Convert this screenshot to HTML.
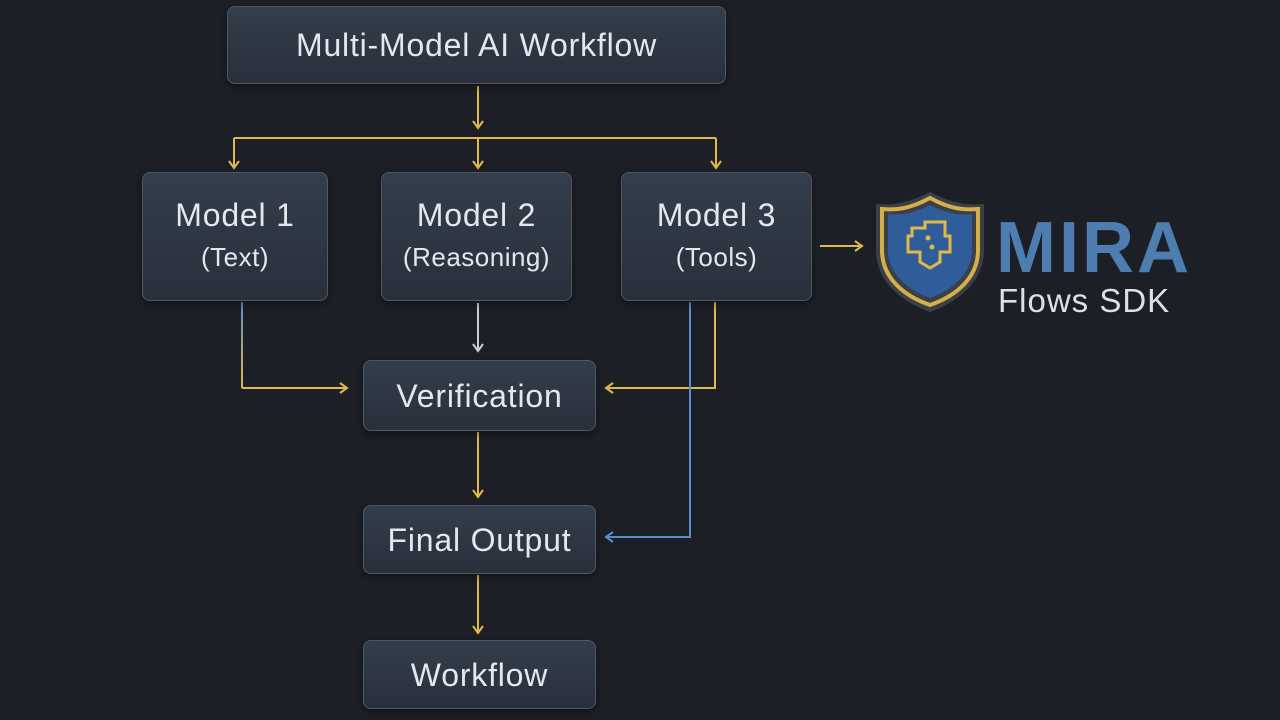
<!DOCTYPE html>
<html><head><meta charset="utf-8"><style>
html,body{margin:0;padding:0}
body{width:1280px;height:720px;background:#1c1f26;position:relative;overflow:hidden;font-family:"Liberation Sans",sans-serif}
.b{position:absolute;box-sizing:border-box;border:1px solid #4d5868;border-radius:8px;background:linear-gradient(#343d4b,#28303c);color:#e4e7ec;display:flex;flex-direction:column;align-items:center;justify-content:center;text-align:center;box-shadow:0 3px 8px rgba(0,0,0,.4)}
.t1{font-size:32px;line-height:40px;letter-spacing:0.8px}
.t2{font-size:26px;line-height:44px;letter-spacing:0.5px}
</style></head><body>
<svg width="1280" height="720" style="position:absolute;left:0;top:0">
<defs>
<marker id="ay" markerWidth="12" markerHeight="12" refX="9" refY="6" orient="auto" markerUnits="userSpaceOnUse"><path d="M2,1 L9,6 L2,11" fill="none" stroke="#e0b94a" stroke-width="2"/></marker>
<marker id="ab" markerWidth="12" markerHeight="12" refX="9" refY="6" orient="auto" markerUnits="userSpaceOnUse"><path d="M2,1 L9,6 L2,11" fill="none" stroke="#5b8ccc" stroke-width="2"/></marker>
<marker id="ag" markerWidth="12" markerHeight="12" refX="9" refY="6" orient="auto" markerUnits="userSpaceOnUse"><path d="M2,1 L9,6 L2,11" fill="none" stroke="#c8ccd4" stroke-width="2"/></marker>
<linearGradient id="g1" gradientUnits="userSpaceOnUse" x1="0" y1="302" x2="0" y2="388"><stop offset="0" stop-color="#5b8ccc"/><stop offset="1" stop-color="#e0b94a"/></linearGradient>
</defs>
<g fill="none" stroke-width="2">
<path d="M478,86 V128" stroke="#e0b94a" marker-end="url(#ay)"/>
<path d="M234,138 H716" stroke="#e0b94a"/>
<path d="M234,138 V168" stroke="#e0b94a" marker-end="url(#ay)"/>
<path d="M478,138 V168" stroke="#e0b94a" marker-end="url(#ay)"/>
<path d="M716,138 V168" stroke="#e0b94a" marker-end="url(#ay)"/>
<path d="M242,302 V388" stroke="url(#g1)"/>
<path d="M242,388 H347" stroke="#e0b94a" marker-end="url(#ay)"/>
<path d="M478,303 V351" stroke="#c8ccd4" marker-end="url(#ag)"/>
<path d="M715,302 V388 H606" stroke="#e0b94a" marker-end="url(#ay)"/>
<path d="M690,302 V537 H606" stroke="#5b8ccc" marker-end="url(#ab)"/>
<path d="M820,246 H862" stroke="#e0b94a" marker-end="url(#ay)"/>
<path d="M478,432 V497" stroke="#e0b94a" marker-end="url(#ay)"/>
<path d="M478,575 V633" stroke="#e0b94a" marker-end="url(#ay)"/>
</g>
<g>
<path d="M930,192 C955,205 970,205 984,204 L984,250 C984,282 958,302 930,312 C902,302 876,282 876,250 L876,204 C890,205 905,205 930,192 Z" fill="#3a3f48"/>
<path d="M930,198 C952,210 966,210 978,209 L978,250 C978,278 956,296 930,305 C904,296 882,278 882,250 L882,209 C894,210 908,210 930,198 Z" fill="none" stroke="#d5b04a" stroke-width="4"/>
<path d="M930,205 C950,215 962,215 972,214 L972,250 C972,274 952,290 930,298 C908,290 888,274 888,250 L888,214 C898,215 910,215 930,205 Z" fill="#2f5d99"/>
<path d="M912,228 H925 V222 H945 V236 H950 V252 H940 V262 L930,268 L920,262 V252 H908 V236 H912 Z" fill="none" stroke="#e0b94a" stroke-width="3"/>
<circle cx="928" cy="238" r="2.5" fill="#e0b94a"/><circle cx="932" cy="247" r="2.5" fill="#e0b94a"/>
</g>
<text x="996" y="272" font-family="Liberation Sans" font-weight="bold" font-size="72" letter-spacing="3" fill="#4e7db0">MIRA</text>
<text x="998" y="312" font-family="Liberation Sans" font-size="33" letter-spacing="1" fill="#dde1e6">Flows SDK</text>
</svg>
<div class="b t1" style="left:227px;top:6px;width:499px;height:78px">Multi-Model AI Workflow</div>
<div class="b" style="left:142px;top:172px;width:186px;height:129px"><div class="t1">Model 1</div><div class="t2">(Text)</div></div>
<div class="b" style="left:381px;top:172px;width:191px;height:129px"><div class="t1">Model 2</div><div class="t2">(Reasoning)</div></div>
<div class="b" style="left:621px;top:172px;width:191px;height:129px"><div class="t1">Model 3</div><div class="t2">(Tools)</div></div>
<div class="b t1" style="left:363px;top:360px;width:233px;height:71px">Verification</div>
<div class="b t1" style="left:363px;top:505px;width:233px;height:69px">Final Output</div>
<div class="b t1" style="left:363px;top:640px;width:233px;height:69px">Workflow</div>
</body></html>
